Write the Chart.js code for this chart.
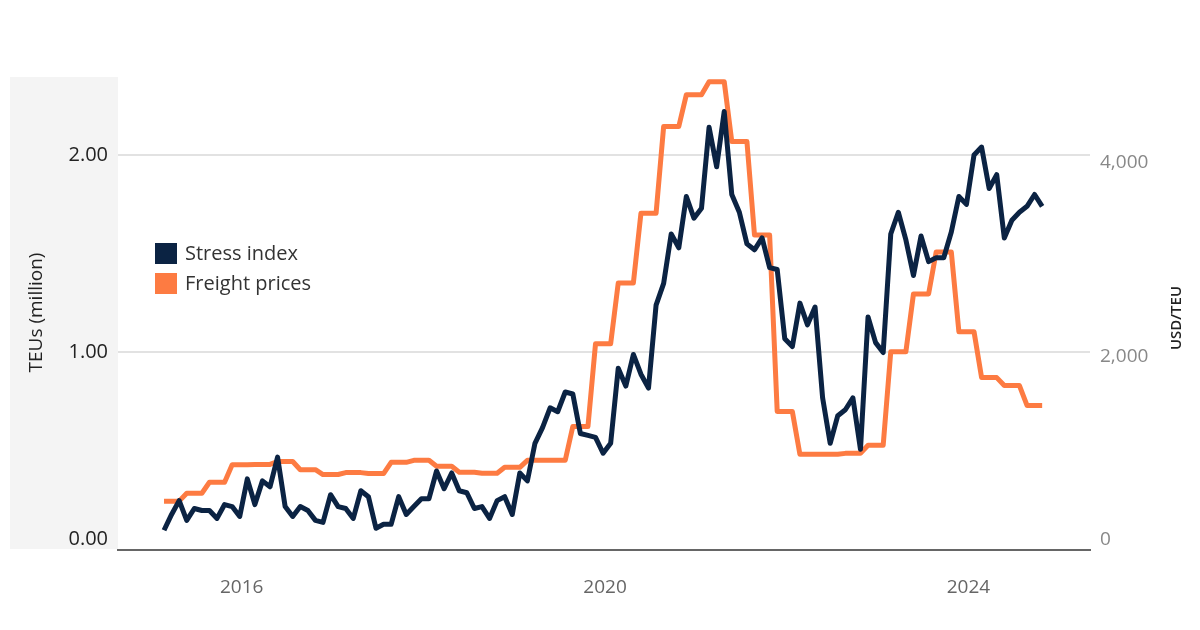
<!DOCTYPE html>
<html>
<head>
<meta charset="utf-8">
<script src="https://cdn.jsdelivr.net/npm/chart.js@4.4.1/dist/chart.umd.min.js"></script>
<style>
  html, body { margin: 0; padding: 0; background: #fff; }
  #wrap { width: 1200px; height: 630px; }
</style>
</head>
<body>
<div id="wrap"><canvas id="chart" width="1200" height="630"></canvas></div>
<script>
// monthly series, first month March 2015
const startYear = 2015;
const startMonth = 3;

const stressIndex = [
  0.10, 0.18, 0.25, 0.15, 0.21, 0.20, 0.20, 0.16, 0.23, 0.22,
  0.17, 0.36, 0.23, 0.35, 0.32, 0.47, 0.22, 0.17, 0.22, 0.20,
  0.15, 0.14, 0.28, 0.22, 0.21, 0.16, 0.30, 0.27, 0.11, 0.13,
  0.13, 0.27, 0.18, 0.22, 0.26, 0.26, 0.40, 0.31, 0.39, 0.30,
  0.29, 0.21, 0.22, 0.16, 0.25, 0.27, 0.18, 0.39, 0.35, 0.54,
  0.62, 0.72, 0.70, 0.80, 0.79, 0.59, 0.58, 0.57, 0.49, 0.54,
  0.92, 0.83, 0.99, 0.89, 0.82, 1.24, 1.35, 1.60, 1.53, 1.79,
  1.68, 1.73, 2.14, 1.94, 2.22, 1.80, 1.71, 1.55, 1.52, 1.58,
  1.43, 1.42, 1.07, 1.03, 1.25, 1.14, 1.23, 0.77, 0.54, 0.68,
  0.71, 0.77, 0.51, 1.18, 1.05, 1.00, 1.60, 1.71, 1.57, 1.39,
  1.59, 1.46, 1.48, 1.48, 1.61, 1.79, 1.75, 2.00, 2.04, 1.83,
  1.90, 1.58, 1.67, 1.71, 1.74, 1.80, 1.74
];

// USD/TEU, changes once a quarter
const freightPrices = [
  505, 505, 505, 587, 587, 587, 700, 700, 700, 880, 880, 880,
  885, 885, 885, 915, 915, 915, 830, 830, 830, 780, 780, 780,
  800, 800, 800, 790, 790, 790, 906, 906, 906, 927, 927, 927,
  865, 865, 865, 803, 803, 803, 793, 793, 793, 855, 855, 855,
  927, 927, 927, 927, 927, 927, 1277, 1277, 1277, 2132, 2132, 2132,
  2760, 2760, 2760, 3481, 3481, 3481, 4378, 4378, 4378, 4707, 4707, 4707,
  4841, 4841, 4841, 4223, 4223, 4223, 3255, 3255, 3255, 1432, 1432, 1432,
  989, 989, 989, 989, 989, 989, 999, 999, 999, 1082, 1082, 1082,
  2050, 2050, 2050, 2647, 2647, 2647, 3080, 3080, 3080, 2256, 2256, 2256,
  1782, 1782, 1782, 1700, 1700, 1700, 1494, 1494, 1494
];

const seriesNames = ["Stress index", "Freight prices"];
const seriesColors = ["#0b2343", "#fd7b42"];
const yearTicks = [2016, 2020, 2024];
const teuTicks = [0, 1, 2];
const usdTicks = [0, 2000, 4000];

const FONT = "'Open Sans', 'DejaVu Sans', sans-serif";

const months = stressIndex.map((_, i) => startYear + (startMonth - 1 + i) / 12);
const toPoints = vals => vals.map((v, i) => ({ x: months[i], y: v }));

// grey band behind the left axis
const panelPlugin = {
  id: "panel",
  beforeDraw(chart) {
    const ctx = chart.ctx;
    ctx.save();
    ctx.fillStyle = "#f4f4f4";
    ctx.fillRect(10, 77, chart.chartArea.left - 10, chart.chartArea.bottom - 78);
    ctx.restore();
  }
};

const legendPlugin = {
  id: "boxLegend",
  afterDraw(chart) {
    const ctx = chart.ctx;
    ctx.save();
    ctx.font = "20px " + FONT;
    ctx.textBaseline = "middle";
    chart.data.datasets.forEach((ds, i) => {
      const y = 243 + i * 30;
      ctx.fillStyle = ds.borderColor;
      ctx.fillRect(155, y, 22, 21);
      ctx.fillStyle = "#333";
      ctx.fillText(ds.label, 185, y + 11);
    });
    ctx.restore();
  }
};

const rightTitlePlugin = {
  id: "rightTitle",
  afterDraw(chart) {
    const ctx = chart.ctx;
    ctx.save();
    ctx.translate(1177, 318);
    ctx.rotate(-Math.PI / 2);
    ctx.font = "600 15px " + FONT;
    ctx.fillStyle = "#222";
    ctx.textAlign = "center";
    ctx.textBaseline = "middle";
    ctx.fillText("USD/TEU", 0, 0);
    ctx.restore();
  }
};

new Chart(document.getElementById("chart"), {
  type: "line",
  data: {
    datasets: [
      {
        label: seriesNames[0],
        data: toPoints(stressIndex),
        yAxisID: "yTeu",
        borderColor: seriesColors[0],
        borderWidth: 5,
        pointRadius: 0,
        tension: 0,
        borderJoinStyle: "round"
      },
      {
        label: seriesNames[1],
        data: toPoints(freightPrices),
        yAxisID: "yUsd",
        borderColor: seriesColors[1],
        borderWidth: 5,
        pointRadius: 0,
        tension: 0,
        borderJoinStyle: "round"
      }
    ]
  },
  options: {
    responsive: false,
    animation: false,
    layout: { padding: { top: 75, left: 0, right: 0, bottom: 0 } },
    plugins: { legend: { display: false }, tooltip: { enabled: false } },
    scales: {
      x: {
        type: "linear",
        min: 2014.66,
        max: 2025.36,
        afterFit: s => { s.height = 80; },
        afterBuildTicks: s => { s.ticks = yearTicks.map(v => ({ value: v })); },
        ticks: {
          autoSkip: false,
          maxRotation: 0,
          padding: 18,
          labelOffset: 2,
          color: "#666",
          font: { family: FONT, size: 19 },
          callback: (v, i) => String(yearTicks[i])
        },
        grid: { display: false },
        border: { display: true, color: "#666", width: 2 }
      },
      yTeu: {
        type: "linear",
        position: "left",
        min: 0,
        max: 2.405,
        afterFit: s => { s.width = 118; },
        // the 0.00 label sits a little above the baseline, as in the original
        afterBuildTicks: s => { s.ticks = teuTicks.map(v => ({ value: v === 0 ? 0.055 : v })); },
        ticks: {
          autoSkip: false,
          padding: 10,
          color: "#222",
          font: { family: FONT, size: 20 },
          callback: (v, i) => teuTicks[i].toFixed(2)
        },
        grid: {
          drawTicks: false,
          lineWidth: 2,
          color: c => (c.tick && c.tick.value >= 1 ? "#e2e2e2" : "rgba(0,0,0,0)")
        },
        border: { display: false },
        title: {
          display: true,
          text: "TEUs (million)",
          color: "#222",
          font: { family: FONT, size: 19 },
          padding: { top: 25, bottom: 0 }
        }
      },
      yUsd: {
        type: "linear",
        position: "right",
        min: 0,
        max: 4910,
        afterFit: s => { s.width = 110; },
        afterBuildTicks: s => { s.ticks = usdTicks.map(v => ({ value: v === 0 ? 105 : v })); },
        ticks: {
          autoSkip: false,
          padding: 10,
          color: "#888",
          font: { family: FONT, size: 19 },
          callback: (v, i) => usdTicks[i].toLocaleString("en-US")
        },
        grid: { display: false, drawTicks: false },
        border: { display: false }
      }
    }
  },
  plugins: [panelPlugin, legendPlugin, rightTitlePlugin]
});
</script>
</body>
</html>
